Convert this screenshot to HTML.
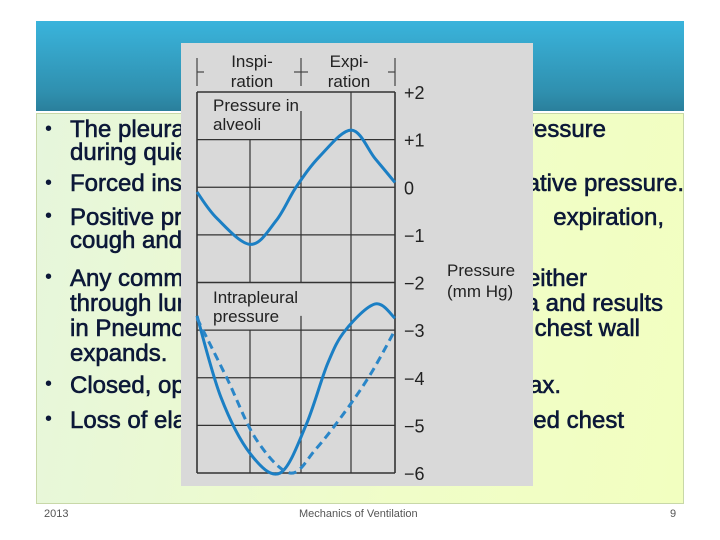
<!DOCTYPE html>
<html><head><meta charset="utf-8"><style>
html,body{margin:0;padding:0;width:720px;height:540px;background:#fff;overflow:hidden;font-family:"Liberation Sans",Arial,sans-serif}
#header{position:absolute;left:36px;top:21px;width:648px;height:90px;background:linear-gradient(#3ab4dc,#2f8fae 80%,#2a7f9c)}
#content{position:absolute;left:36px;top:113px;width:646px;height:389px;border:1px solid #c8d8a8;background:linear-gradient(100deg,#e6f6dc,#f0fdc8 60%,#f2ffc0)}
.ln{position:absolute;white-space:nowrap;font-size:24px;color:#0c1838;line-height:24px;font-weight:normal;-webkit-text-stroke:0.6px #0c1838}
.r{text-align:right}
.bul{position:absolute;font-size:20px;color:#0c1838}
.foot{position:absolute;top:508px;font-size:11px;color:#555}
#img{position:absolute;left:181px;top:43px;width:352px;height:443px;background:#d9d9d9}
</style></head><body>
<div id="header"></div>
<div id="content"></div>
<div>
<span class="bul" style="left:45px;top:118px">•</span><div class="ln" style="left:70px;top:118px">The pleural pressure is</div><div class="ln r" style="right:114px;top:118px">pressure</div>
<div class="ln" style="left:70px;top:141px">during quiet breathing.</div>
<span class="bul" style="left:45px;top:172px">•</span><div class="ln" style="left:70px;top:172px">Forced inspiration</div><div class="ln r" style="right:36px;top:172px">negative pressure.</div>
<span class="bul" style="left:45px;top:205px">•</span><div class="ln" style="left:70px;top:206px">Positive pressure</div><div class="ln r" style="right:56px;top:206px">expiration,</div>
<div class="ln" style="left:70px;top:229px">cough and sneeze.</div>
<span class="bul" style="left:45px;top:266px">•</span><div class="ln" style="left:70px;top:267px">Any communication</div><div class="ln r" style="right:133px;top:267px">either</div>
<div class="ln" style="left:70px;top:292px">through lung or</div><div class="ln r" style="right:57px;top:292px">trauma and results</div>
<div class="ln" style="left:70px;top:317px">in Pneumothorax</div><div class="ln r" style="right:80px;top:317px">chest wall</div>
<div class="ln" style="left:70px;top:342px">expands.</div>
<span class="bul" style="left:45px;top:373px">•</span><div class="ln" style="left:70px;top:374px">Closed, open and</div><div class="ln r" style="right:159px;top:374px">thorax.</div>
<span class="bul" style="left:45px;top:408px">•</span><div class="ln" style="left:70px;top:409px">Loss of elastic</div><div class="ln r" style="right:96px;top:409px">closed chest</div>
</div>
<div class="foot" style="left:44px">2013</div>
<div class="foot" style="left:299px">Mechanics of Ventilation</div>
<div class="foot" style="left:670px">9</div>
<div id="img"></div>
<svg id="chart" width="720" height="540" style="position:absolute;left:0;top:0"
 font-family="Liberation Sans, Arial, sans-serif"></svg>
<script>
const yTicks=[2,1,0,-1,-2,-3,-4,-5,-6];
const yTickLabels=["+2","+1","0","\u22121","\u22122","\u22123","\u22124","\u22125","\u22126"];
const alvT=[0,0.1,0.27,0.4,0.5,0.62,0.78,0.9,1];
const alvV=[-0.1,-0.65,-1.2,-0.7,0,0.65,1.2,0.6,0.1];
const pleT=[0,0.12,0.27,0.42,0.55,0.66,0.75,0.9,1];
const pleV=[-2.7,-4.4,-5.6,-6,-5.0,-3.7,-3.0,-2.45,-2.75];
const dashT=[0,0.15,0.3,0.47,0.6,0.75,0.88,1];
const dashV=[-2.75,-4.0,-5.3,-6,-5.5,-4.7,-3.9,-3.0];
const X0=197,X1=395,Y0=92,Y1=473;
const sx=t=>X0+t*(X1-X0);
const sy=v=>Y0+(2-v)*(Y1-Y0)/8;
const svg=document.getElementById('chart');
const NS='http://www.w3.org/2000/svg';
function mk(tag,a){const e=document.createElementNS(NS,tag);for(const k in a)e.setAttribute(k,a[k]);svg.appendChild(e);return e;}
function path(T,V){const p=T.map((t,i)=>[sx(t),sy(V[i])]);let d='M'+p[0][0]+','+p[0][1];
 for(let i=0;i<p.length-1;i++){const a=p[Math.max(0,i-1)],b=p[i],c=p[i+1],e=p[Math.min(p.length-1,i+2)];
 d+=' C'+(b[0]+(c[0]-a[0])/6)+','+(b[1]+(c[1]-a[1])/6)+' '+(c[0]-(e[0]-b[0])/6)+','+(c[1]-(e[1]-b[1])/6)+' '+c[0]+','+c[1];}
 return d;}
yTicks.forEach((v,i)=>{
 const l=mk('line',{x1:X0,x2:X1,y1:sy(v),y2:sy(v),stroke:'#333','stroke-width':(v===2||v===-2||v===-6)?1.6:1.2});
 
 const t=mk('text',{x:404,y:sy(v)+7,'font-size':18,fill:'#222'});t.textContent=yTickLabels[i];
 
});
[[X0,sy(2),sy(-6)],[X1,sy(2),sy(-6)],[250,sy(1),sy(-2)],[301,sy(1.6),sy(-2)],[351,sy(2),sy(-2)],
 [250,sy(-3),sy(-6)],[301,sy(-2.7),sy(-6)],[351,sy(-2),sy(-6)]].forEach(g=>{
 const l=mk('line',{x1:g[0],x2:g[0],y1:g[1],y2:g[2],stroke:'#333','stroke-width':(g[0]===X0||g[0]===X1)?1.6:1.2});
 
});
[[X0,58,86],[301,58,86],[X1,58,86]].forEach(b=>{mk('line',{x1:b[0],x2:b[0],y1:b[1],y2:b[2],stroke:'#444','stroke-width':1.2});});
[[X0,204],[294,308],[388,X1]].forEach(b=>{mk('line',{x1:b[0],x2:b[1],y1:72,y2:72,stroke:'#444','stroke-width':1.2});});
function txt(x,y,s,size,name,anchor){const t=mk('text',{x:x,y:y,'font-size':size,fill:'#222','text-anchor':anchor||'start'});t.textContent=s;
 return t;}
txt(252,67,'Inspi-',17,'inspiration-label','middle');txt(252,87,'ration',17,'inspiration-label','middle');
txt(349,67,'Expi-',17,'expiration-label','middle');txt(349,87,'ration',17,'expiration-label','middle');
txt(213,111,'Pressure in',17,'alveoli-panel-title');txt(213,130,'alveoli',17,'alveoli-panel-title');
txt(213,303,'Intrapleural',17,'intrapleural-panel-title');txt(213,322,'pressure',17,'intrapleural-panel-title');
txt(447,276,'Pressure',17,'y-axis-title');txt(447,297,'(mm Hg)',17,'y-axis-title');
const c1=mk('path',{d:path(alvT,alvV),fill:'none',stroke:'#1b7fc4','stroke-width':3});

const c2=mk('path',{d:path(pleT,pleV),fill:'none',stroke:'#1b7fc4','stroke-width':3});

const c3=mk('path',{d:path(dashT,dashV),fill:'none',stroke:'#2a86c8','stroke-width':3,'stroke-dasharray':'8,5'});

</script>
</body></html>
